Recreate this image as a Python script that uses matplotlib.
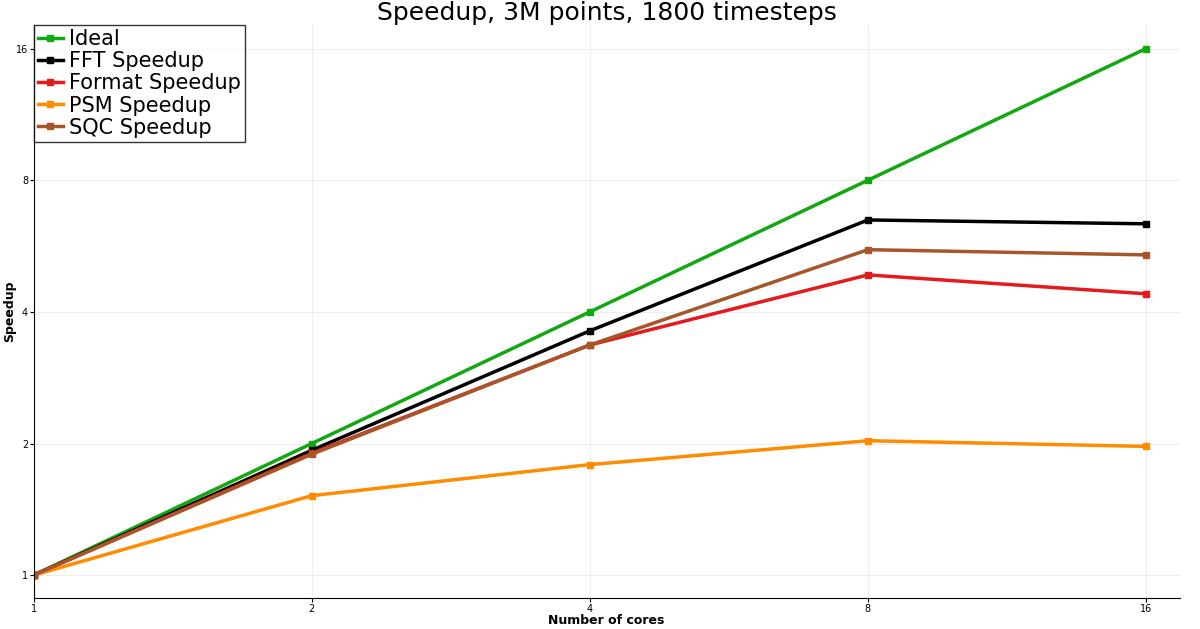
import matplotlib
matplotlib.use("Agg")
from matplotlib import pyplot as plt
from matplotlib.ticker import FixedLocator, FixedFormatter, NullLocator

cores = [1, 2, 4, 8, 16]
ideal = [1, 2, 4, 8, 16]
fft = [1, 1.93, 3.62, 6.49, 6.36]
fmt = [1, 1.90, 3.36, 4.86, 4.40]
psm = [1, 1.52, 1.79, 2.03, 1.97]
sqc = [1, 1.89, 3.36, 5.55, 5.40]
tick_vals = [1, 2, 4, 8, 16]

fig = plt.figure(figsize=(12, 6.29), dpi=100)
ax = fig.add_axes([0.028, 0.049, 0.955, 0.911])

series = [
    ("Ideal", ideal, "#12a812"),
    ("FFT Speedup", fft, "#000000"),
    ("Format Speedup", fmt, "#e41a1c"),
    ("PSM Speedup", psm, "#ff8c00"),
    ("SQC Speedup", sqc, "#a65628"),
]
for label, vals, color in series:
    ax.plot(cores, vals, color=color, lw=2.5, marker="s", markersize=4, label=label)

ax.set_xscale("log", base=2)
ax.set_yscale("log", base=2)
ax.set_xlim(1, 17.4)
ax.set_ylim(0.886, 18.1)
for axis in (ax.xaxis, ax.yaxis):
    axis.set_major_locator(FixedLocator(tick_vals))
    axis.set_major_formatter(FixedFormatter([str(v) for v in tick_vals]))
    axis.set_minor_locator(NullLocator())
ax.tick_params(labelsize=7, length=3, pad=1)
ax.grid(True, color="#eeeeee", lw=0.8)
for side in ("top", "right"):
    ax.spines[side].set_visible(False)

ax.set_xlabel("Number of cores", fontsize=9, fontweight="bold", labelpad=0)
ax.set_ylabel("Speedup", fontsize=9, fontweight="bold", labelpad=0)
ax.set_title("Speedup, 3M points, 1800 timesteps", fontsize=18, pad=2)
leg = ax.legend(loc="upper left", fontsize=15, frameon=True, fancybox=False,
                handlelength=1.2, borderpad=0.2, labelspacing=0.1,
                handletextpad=0.3, borderaxespad=0)
leg.get_frame().set_edgecolor("black")

fig.savefig("out.png")
